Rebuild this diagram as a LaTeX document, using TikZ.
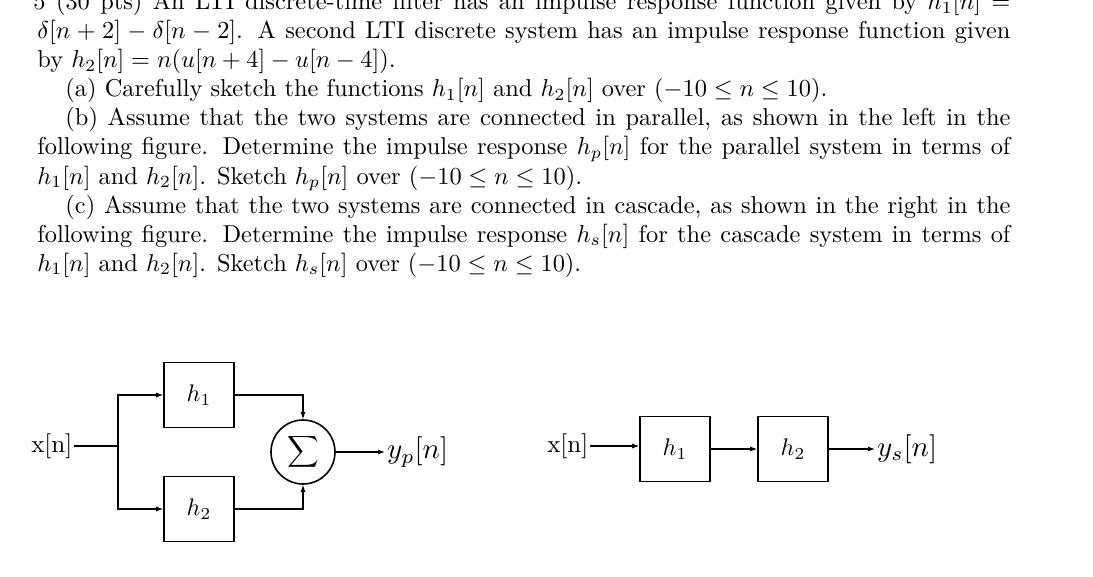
\documentclass[tikz,border=0pt]{standalone}
\usepackage{fix-cm}
\usetikzlibrary{arrows.meta}
\begin{document}
\begin{tikzpicture}[x=1pt,y=-1pt,
  blk/.style={draw,line width=1.6pt,minimum width=70pt,minimum height=65pt,inner sep=0pt},
  con/.style={line width=1.1pt},
  arr/.style={con,-{Latex[length=7pt,width=5pt]}},
  lbl/.style={inner sep=0.5pt,scale=2.5,transform shape},
  hlbl/.style={inner sep=0.5pt,scale=2.4,transform shape},
  ylbl/.style={inner sep=0.5pt,scale=2.9,transform shape}]
\useasboundingbox (0,0) rectangle (1093,576);
\clip (0,0) rectangle (1093,576);
\node[anchor=north west,inner sep=0pt,scale=2.44,transform shape,text width=400.4pt,align=justify,font=\fontsize{10}{11.9}\selectfont] (txt) at (33,-9) {%
\noindent 5 (30 pts) An LTI discrete-time filter has an impulse response function given by $h_1[n]=$\linebreak
\hspace*{1.6pt}$\delta[n+2]-\delta[n-2]$. A second LTI discrete system has an impulse response function given\linebreak
\hspace*{1.6pt}by $h_2[n]=n(u[n+4]-u[n-4])$.\\
\hspace*{13.1pt}(a) Carefully sketch the functions $h_1[n]$ and $h_2[n]$ over $(-10\le n\le 10)$.\\
\hspace*{13.1pt}(b) Assume that the two systems are connected in parallel, as shown in the left in the\linebreak
\hspace*{1.6pt}following figure. Determine the impulse response $h_p[n]$ for the parallel system in terms of\linebreak
\hspace*{1.6pt}$h_1[n]$ and $h_2[n]$. Sketch $h_p[n]$ over $(-10\le n\le 10)$.\\
\hspace*{13.1pt}(c) Assume that the two systems are connected in cascade, as shown in the right in the\linebreak
\hspace*{1.6pt}following figure. Determine the impulse response $h_s[n]$ for the cascade system in terms of\linebreak
\hspace*{1.6pt}$h_1[n]$ and $h_2[n]$. Sketch $h_s[n]$ over $(-10\le n\le 10)$.\par};
% parallel
\node[lbl,anchor=east] (xp) at (74,446) {x[n]};
\coordinate (j) at (118,446);
\node[blk] (h1) at (199,395) {};
\node[hlbl] (h1t) at (h1) {$h_1$};
\node[blk] (h2) at (199,509) {};
\node[hlbl] (h2t) at (h2) {$h_2$};
\node[draw,circle,line width=1.6pt,minimum size=64pt,inner sep=0pt] (s) at (303,452) {};
\node[inner sep=0pt,scale=2.2,transform shape] (st) at (s) {$\displaystyle\sum$};
\node[ylbl,anchor=west] (yp) at (385,452) {$y_p[n]$};
\draw[con] (xp.east) -- (j);
\draw[arr] (j) |- (h1.west);
\draw[arr] (j) |- (h2.west);
\draw[arr] (h1.east) -| (s.north);
\draw[arr] (h2.east) -| (s.south);
\draw[arr] (s.east) -- (yp.west);
% cascade
\node[lbl,anchor=east] (xs) at (590,446) {x[n]};
\node[blk] (c1) at (675,449) {};
\node[hlbl] (c1t) at (c1) {$h_1$};
\node[blk] (c2) at (793,449) {};
\node[hlbl] (c2t) at (c2) {$h_2$};
\node[ylbl,anchor=west] (ys) at (875,449) {$y_s[n]$};
\draw[arr] (xs.east) -- (xs.east -| c1.west);
\draw[arr] (c1.east) -- (c2.west);
\draw[arr] (c2.east) -- (ys.west);
\end{tikzpicture}
\end{document}
